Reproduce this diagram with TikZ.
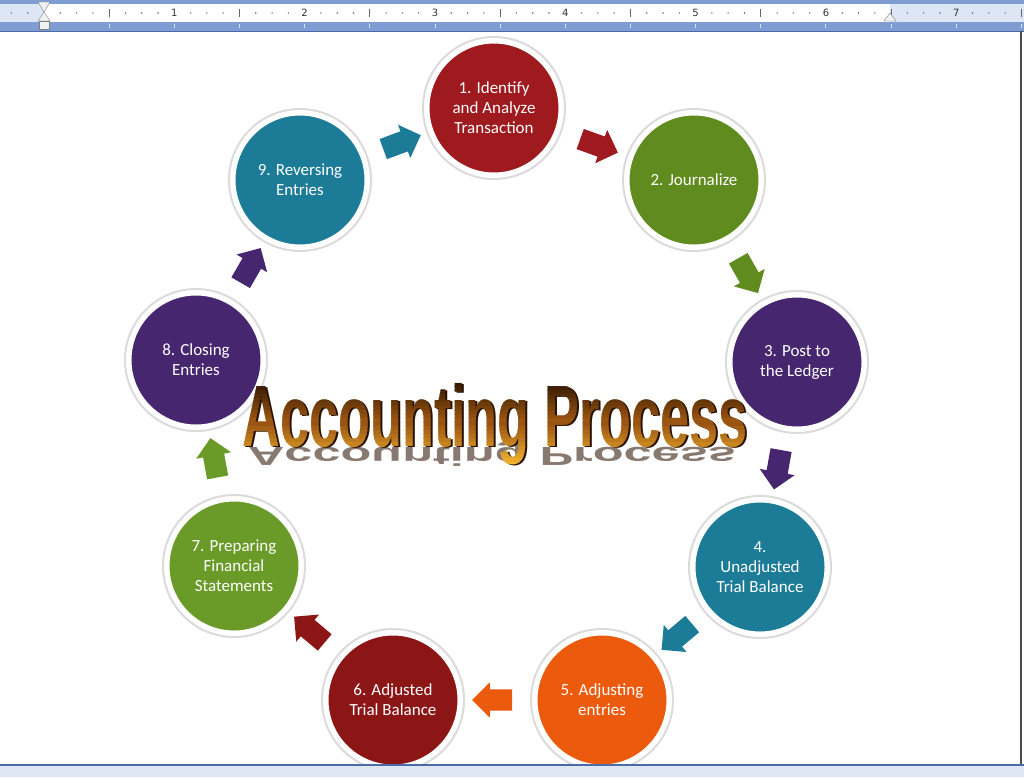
\documentclass[tikz,border=0pt]{standalone}
\usepackage{fontspec}
\setmainfont{Carlito}
\newfontfamily\titlefont{Liberation Sans}
\newfontfamily\rulerfont{DejaVu Sans}
\usetikzlibrary{shapes.arrows,calc}
\definecolor{cred}{HTML}{9E1A1F}
\definecolor{cred2}{HTML}{8C1616}
\definecolor{cgreen}{HTML}{5F8B1F}
\definecolor{cgreen2}{HTML}{6A9A28}
\definecolor{cpurple}{HTML}{46276F}
\definecolor{cteal}{HTML}{1C7B97}
\definecolor{corange}{HTML}{EC5A0E}
\definecolor{ttop}{HTML}{2A1200}
\definecolor{tmid}{HTML}{9A5512}
\definecolor{tbot}{HTML}{F2B530}
\definecolor{rulerblue}{HTML}{7F9DD3}
\definecolor{rulerlight}{HTML}{DCE6F5}
\definecolor{rulerdark}{HTML}{4A6AA8}
\newcommand\TitleText{\scalebox{0.6}[1]{Accounting Process}}
\begin{document}
\begin{tikzpicture}[x=1pt,y=-1pt,
  stepcircle/.style={circle, fill=#1, draw=white, line width=5, minimum size=134,
    inner sep=0, text=white, align=center, font=\fontsize{17}{20}\selectfont},
  halo/.style={circle, draw=gray!28, line width=2, minimum size=142, inner sep=0},
  arr/.style={single arrow, fill=#1, draw=none, minimum height=40,
    single arrow head extend=7, inner sep=0, sloped, allow upside down},
  titlestyle/.style={font=\titlefont\bfseries\fontsize{87}{87}\selectfont, inner sep=0, anchor=base}
]
\useasboundingbox (0,0) rectangle (1024,777);
\fill[white] (0,0) rectangle (1024,777);
% ruler
\fill[rulerblue] (0,0) rectangle (1024,31);
\fill[rulerlight] (0,4) rectangle (1024,22);
\fill[white] (44,4) rectangle (890,22);
\foreach \k in {-2,...,60}{
  \pgfmathsetmacro\xx{44+\k*16.29}
  \pgfmathtruncatemacro\m{mod(\k+16,8)}
  \pgfmathtruncatemacro\nn{\k/8}
  \ifnum\k=0\relax\else
    \ifnum\m=0
      \node[font=\rulerfont\fontsize{10}{10}\selectfont, text=black!80, inner sep=0] at (\xx,13) {\nn};
    \else\ifnum\m=4
      \draw[black!60, line width=0.8] (\xx,9) -- (\xx,17);
    \else
      \fill[black!60] (\xx,13) circle (0.8);
    \fi\fi
  \fi
}
\foreach \k in {1,...,15}{
  \draw[white!70!rulerblue, line width=0.8] ({44+\k*65.15},24) -- ({44+\k*65.15},28);
}
\draw[rulerdark, line width=1] (0,31) -- (1024,31);
% margin markers
\filldraw[fill=white!90!gray, draw=gray] (38,2) -- (50,2) -- (44,12) -- cycle;
\filldraw[fill=white!90!gray, draw=gray] (38,21) -- (50,21) -- (44,12) -- cycle;
\filldraw[fill=white!90!gray, draw=gray] (39,21) rectangle (49,29);
\filldraw[fill=white!90!gray, draw=gray] (884,21) -- (896,21) -- (890,13) -- cycle;
% halos
\foreach \p in {(494,108),(694,180),(797,362),(760,567),(602,700),(393,700),(234,566),(196,360),(300,180)}
  \node[halo] at \p {};
% circles
\node[stepcircle=cred]    (c1) at (494,108) {1. Identify\\and Analyze\\Transaction};
\node[stepcircle=cgreen]  (c2) at (694,180) {2. Journalize};
\node[stepcircle=cpurple] (c3) at (797,362) {3. Post to\\the Ledger};
\node[stepcircle=cteal]   (c4) at (760,567) {4.\\Unadjusted\\Trial Balance};
\node[stepcircle=corange] (c5) at (602,700) {5. Adjusting\\entries};
\node[stepcircle=cred2]   (c6) at (393,700) {6. Adjusted\\Trial Balance};
\node[stepcircle=cgreen2] (c7) at (234,566) {7. Preparing\\Financial\\Statements};
\node[stepcircle=cpurple] (c8) at (196,360) {8. Closing\\Entries};
\node[stepcircle=cteal]   (c9) at (300,180) {9. Reversing\\Entries};
% block arrows
\newcommand\shaft{\rule{0pt}{21pt}}
\path (c9) -- node[arr=cteal]{\shaft} (c1);
\path (c1) -- node[arr=cred]{\shaft} (c2);
\path (c2) -- node[arr=cgreen]{\shaft} (c3);
\path (c3) -- node[arr=cpurple]{\shaft} (c4);
\path (c4) -- node[arr=cteal]{\shaft} (c5);
\path (c5) -- node[arr=corange]{\shaft} (c6);
\path (c6) -- node[arr=cred2]{\shaft} (c7);
\path (c7) -- node[arr=cgreen2]{\shaft} (c8);
\path (c8) -- node[arr=cpurple]{\shaft} (c9);
% title reflection
\node[titlestyle, text=ttop!80!white, opacity=0.7] (refl) at (492,447) {\scalebox{0.58}[-0.3]{Accounting Process}};
% title shadow
\node[titlestyle, text=ttop] (tshadow) at (497,447) {\TitleText};
% title gradient
\foreach \i in {0,...,10}{
  \pgfmathtruncatemacro\pp{\i*10}
  \begin{scope}
    \clip (0,{378+4*\i}) rectangle (1024,{382.6+4*\i});
    \node[titlestyle, text=tmid!\pp!ttop] at (495,446) {\TitleText};
  \end{scope}
}
\foreach \i in {0,...,10}{
  \pgfmathtruncatemacro\pp{\i*10}
  \begin{scope}
    \clip (0,{422+4*\i}) rectangle (1024,{426.6+4*\i});
    \node[titlestyle, text=tbot!\pp!tmid] (title) at (495,446) {\TitleText};
  \end{scope}
}
% window edges
\draw[black!70, line width=2] (1021,31) -- (1021,765);
\fill[white!75!rulerblue] (0,765) rectangle (1024,777);
\draw[rulerdark, line width=1.2] (0,765) -- (1024,765);
\end{tikzpicture}
\end{document}
